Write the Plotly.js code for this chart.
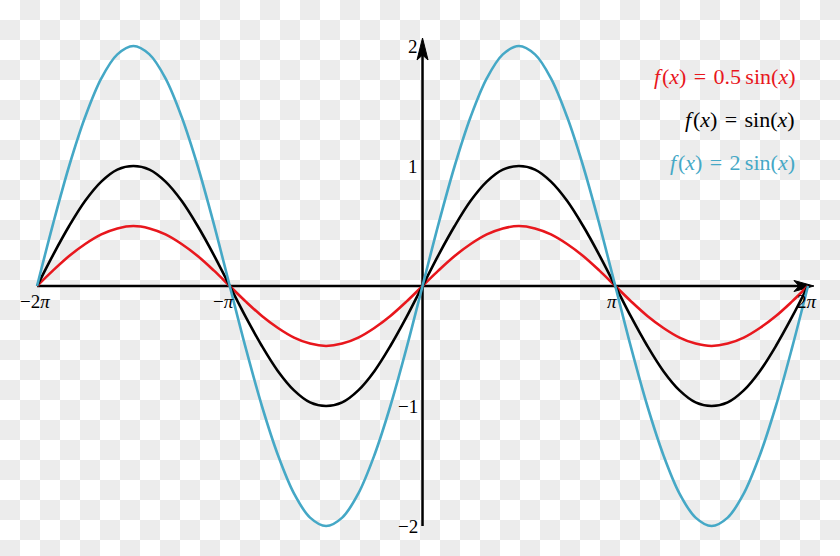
<!DOCTYPE html>
<html>
<head>
<meta charset="utf-8">
<script src="https://cdn.plot.ly/plotly-3.0.1.min.js"></script>
<style>
  html, body { margin: 0; padding: 0; }
  body {
    width: 840px; height: 556px; overflow: hidden;
    background-color: #ffffff;
    background-image: repeating-conic-gradient(#ececec 0 25%, #ffffff 0 50%);
    background-size: 40px 40px;
    background-position: 0 0;
  }
  #chart { width: 840px; height: 556px; }
</style>
</head>
<body>
<div id="chart"></div>
<script>
// x samples (radians), read along the curves from -2π to 2π
const xValues = [-6.283, -6.021, -5.760, -5.498, -5.236, -4.974, -4.712, -4.451, -4.189, -3.927, -3.665, -3.403,
  -3.142, -2.880, -2.618, -2.356, -2.094, -1.833, -1.571, -1.309, -1.047, -0.785, -0.524, -0.262,
  0, 0.262, 0.524, 0.785, 1.047, 1.309, 1.571, 1.833, 2.094, 2.356, 2.618, 2.880,
  3.142, 3.403, 3.665, 3.927, 4.189, 4.451, 4.712, 4.974, 5.236, 5.498, 5.760, 6.021, 6.283];

// f(x) = 0.5 sin(x)
const yHalf = [0, 0.13, 0.25, 0.35, 0.43, 0.48, 0.5, 0.48, 0.43, 0.35, 0.25, 0.13,
  0, -0.13, -0.25, -0.35, -0.43, -0.48, -0.5, -0.48, -0.43, -0.35, -0.25, -0.13,
  0, 0.13, 0.25, 0.35, 0.43, 0.48, 0.5, 0.48, 0.43, 0.35, 0.25, 0.13,
  0, -0.13, -0.25, -0.35, -0.43, -0.48, -0.5, -0.48, -0.43, -0.35, -0.25, -0.13, 0];

// f(x) = sin(x)
const yOne = [0, 0.26, 0.5, 0.71, 0.87, 0.97, 1, 0.97, 0.87, 0.71, 0.5, 0.26,
  0, -0.26, -0.5, -0.71, -0.87, -0.97, -1, -0.97, -0.87, -0.71, -0.5, -0.26,
  0, 0.26, 0.5, 0.71, 0.87, 0.97, 1, 0.97, 0.87, 0.71, 0.5, 0.26,
  0, -0.26, -0.5, -0.71, -0.87, -0.97, -1, -0.97, -0.87, -0.71, -0.5, -0.26, 0];

// f(x) = 2 sin(x)
const yTwo = [0, 0.52, 1, 1.41, 1.73, 1.93, 2, 1.93, 1.73, 1.41, 1, 0.52,
  0, -0.52, -1, -1.41, -1.73, -1.93, -2, -1.93, -1.73, -1.41, -1, -0.52,
  0, 0.52, 1, 1.41, 1.73, 1.93, 2, 1.93, 1.73, 1.41, 1, 0.52,
  0, -0.52, -1, -1.41, -1.73, -1.93, -2, -1.93, -1.73, -1.41, -1, -0.52, 0];

const seriesNames = [
  '<i>f</i>\u200A(<i>x</i>) \u200A=\u200A 0.5\u2009sin(<i>x</i>)',
  '<i>f</i>\u200A(<i>x</i>) \u200A=\u200A sin(<i>x</i>)',
  '<i>f</i>\u200A(<i>x</i>) \u200A=\u200A 2\u2009sin(<i>x</i>)'
];
const seriesColors = ['#e8171d', '#000000', '#45a8c6'];

const xTickVals = [-6.283, -3.142, 3.142, 6.283];
const xTickText = ['\u22122<i>π</i>', '\u2212<i>π</i>', '<i>π</i>', '2<i>π</i>'];
const yTickVals = [2, 1, -1, -2];
const yTickText = ['2', '1', '\u22121', '\u22122'];

const serif = 'Liberation Serif, Times New Roman, serif';
const seriesY = [yHalf, yOne, yTwo];

const traces = seriesY.map((ys, i) => ({
  type: 'scatter', mode: 'lines', x: xValues, y: ys, name: seriesNames[i],
  line: { color: seriesColors[i], width: 2.6, shape: 'spline', smoothing: 1 },
  hoverinfo: 'skip', showlegend: false
}));

const xMin = xValues[0], xMax = xValues[xValues.length - 1];
const yMin = yTickVals[yTickVals.length - 1], yMax = yTickVals[0];

const shapes = [
  { type: 'line', xref: 'x', yref: 'y', x0: xMin, x1: xMax, y0: 0, y1: 0,
    line: { color: '#000', width: 2.5 }, layer: 'below' },
  { type: 'line', xref: 'x', yref: 'y', x0: 0, x1: 0, y0: yMin, y1: yMax,
    line: { color: '#000', width: 2.5 }, layer: 'below' },
  { type: 'path', xref: 'x', yref: 'y', xsizemode: 'pixel', ysizemode: 'pixel',
    xanchor: xMax, yanchor: 0, path: 'M-2,0 L-10,0 M6,0 L-14,5.5 L-9,0 L-14,-5.5 Z',
    fillcolor: '#000', line: { color: '#000', width: 1 }, layer: 'below' },
  { type: 'path', xref: 'x', yref: 'y', xsizemode: 'pixel', ysizemode: 'pixel',
    xanchor: 0, yanchor: yMax, path: 'M0,8 L5.5,-14 L0,-9 L-5.5,-14 Z',
    fillcolor: '#000', line: { color: '#000', width: 1 }, layer: 'below' }
];

const annotations = [];
const xLabelShift = [-2, -6, -3, -1];
xTickVals.forEach((v, i) => annotations.push({
  x: v, y: 0, xref: 'x', yref: 'y', text: xTickText[i], showarrow: false,
  xanchor: 'center', yanchor: 'top', yshift: -3, xshift: xLabelShift[i],
  font: { family: serif, size: 19, color: '#000' }
}));
yTickVals.forEach((v, i) => annotations.push({
  x: 0, y: v, xref: 'x', yref: 'y', text: yTickText[i], showarrow: false,
  xanchor: 'right', yanchor: 'middle', xshift: -3,
  font: { family: serif, size: 19, color: '#000' }
}));
const legendY = [0.862, 0.785, 0.707];
seriesNames.forEach((t, i) => annotations.push({
  x: 0.949, y: legendY[i], xref: 'paper', yref: 'paper', text: t, showarrow: false,
  xanchor: 'right', yanchor: 'middle',
  font: { family: serif, size: 22, color: seriesColors[i] }
}));

// 0 at (422.5, 286); 61.35 px per unit in x, 120 px per unit in y
const layout = {
  width: 840, height: 556,
  margin: { l: 0, r: 0, t: 0, b: 0, pad: 0 },
  paper_bgcolor: 'rgba(0,0,0,0)', plot_bgcolor: 'rgba(0,0,0,0)',
  xaxis: { range: [-6.887, 6.805], visible: false, fixedrange: true },
  yaxis: { range: [-2.25, 2.3833], visible: false, fixedrange: true },
  shapes: shapes, annotations: annotations, showlegend: false
};

Plotly.newPlot('chart', traces, layout, { staticPlot: true, displayModeBar: false });
</script>
</body>
</html>
